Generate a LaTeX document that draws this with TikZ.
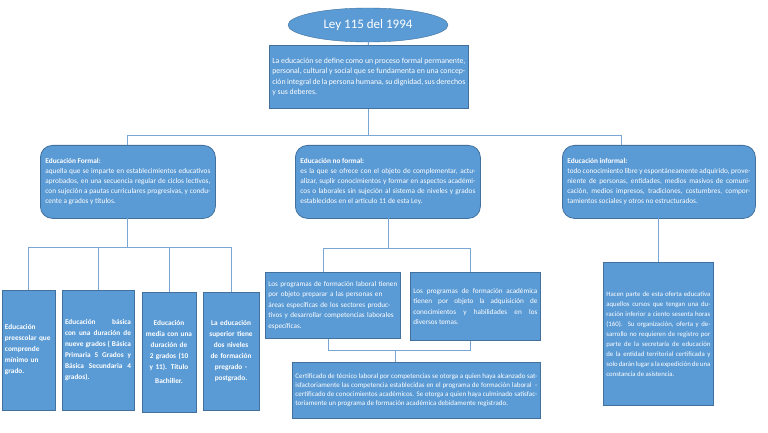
\documentclass[tikz,border=0pt]{standalone}
\usepackage{fontspec}
\setmainfont{Carlito}
\usetikzlibrary{shapes.geometric}
\definecolor{fillb}{HTML}{5B9BD5}
\definecolor{edgeb}{HTML}{41719C}
\definecolor{lineb}{HTML}{7AA6D6}
\begin{document}
\begin{tikzpicture}[x=1pt,y=-1pt,
  bx/.style={draw=edgeb,fill=fillb,text=white,line width=0.8pt,font=\fontsize{7.3}{10}\selectfont,inner sep=3pt,align=justify,anchor=north west},
  rbx/.style={bx,rounded corners=12pt,inner sep=5pt},
  ln/.style={draw=lineb,line width=0.9pt}]
\useasboundingbox (0,0) rectangle (768,433);
\node[ellipse,draw=edgeb,fill=fillb,text=white,minimum width=160,minimum height=34,font=\fontsize{13}{15}\selectfont] (t) at (368,25) {Ley 115 del 1994};
\node[bx,text width=193,minimum height=63,font=\fontsize{7.8}{10.5}\selectfont] (m) at (269,45) {La educación se define como un proceso formal permanente, personal, cultural y social que se fundamenta en una concepción integral de la persona humana, su dignidad, sus derechos y sus deberes.};
\node[rbx,text width=165,minimum height=73] (f) at (40,145) {\textbf{Educación Formal:}\\ aquella que se imparte en establecimientos educativos aprobados, en una secuencia regular de ciclos lectivos, con sujeción a pautas curriculares progresivas, y conducente a grados y títulos.};
\node[rbx,text width=175,minimum height=73] (nf) at (295,145) {\textbf{Educación no formal:}\\ es la que se ofrece con el objeto de complementar, actualizar, suplir conocimientos y formar en aspectos académicos o laborales sin sujeción al sistema de niveles y grados establecidos en el artículo 11 de esta Ley.};
\node[rbx,text width=183,minimum height=73] (inf) at (562,145) {\textbf{Educación informal:}\\ todo conocimiento libre y espontáneamente adquirido, proveniente de personas, entidades, medios masivos de comunicación, medios impresos, tradiciones, costumbres, comportamientos sociales y otros no estructurados.};
% formal children
\tikzset{cb/.style={bx,font=\bfseries\fontsize{7.3}{11}\selectfont,anchor=center}}
\node[cb,text width=47,minimum width=53,minimum height=120,align=left] (f1) at (28.5,350) {Educación preescolar que comprende mínimo un grado.};
\node[cb,text width=66,minimum width=72,minimum height=120] (f2) at (98,350) {Educación básica con una duración de nueve grados ( Básica Primaria 5 Grados y Básica Secundaria 4 grados).};
\node[cb,text width=48,minimum width=54,minimum height=120,align=center] (f3) at (169,352) {Educación media con una duración de 2 grados (10 y 11). Título\\[3pt] Bachiller.};
\node[cb,text width=50,minimum width=56,minimum height=118,align=center] (f4) at (231,351) {La educación superior tiene dos niveles de formación pregrado - postgrado.};
% no formal children
\node[bx,text width=129,minimum height=66,font=\fontsize{7.2}{10.5}\selectfont,align=left] (n1) at (265,272) {Los programas de formación laboral tienen por objeto preparar a las personas en áreas específicas de los sectores productivos y desarrollar competencias laborales específicas.};
\node[bx,text width=124,minimum height=68,font=\fontsize{7.2}{10.5}\selectfont] (n2) at (410,272) {Los programas de formación académica tienen por objeto la adquisición de conocimientos y habilidades en los diversos temas.};
\node[bx,text width=242,minimum height=56,font=\fontsize{7}{9}\selectfont] (c) at (292,362) {Certificado de técnico laboral por competencias se otorga a quien haya alcanzado satisfactoriamente las competencia establecidas en el programa de formación laboral \ - certificado de conocimientos académicos. Se otorga a quien haya culminado satisfactoriamente un programa de formación académica debidamente registrado.};
\node[bx,text width=104,minimum height=143,font=\fontsize{6.8}{10}\selectfont] (i1) at (603,262) {Hacen parte de esta oferta educativa aquellos cursos que tengan una duración inferior a ciento sesenta horas (160). Su organización, oferta y desarrollo no requieren de registro por parte de la secretaría de educación de la entidad territorial certificada y solo darán lugar a la expedición de una constancia de asistencia.};
% connectors
\coordinate (h1) at (127,135); \coordinate (h2) at (621,135);
\path[ln] (t) -- (m);
\path[ln] (m.south) -- (m.south|-h1);
\path[ln] (h1) -- (h2);
\path[ln] (h1) -- (h1|-f.north);
\path[ln] (h2) -- (h2|-inf.north);
\coordinate (fa) at (28,247); \coordinate (fb) at (232,247);
\path[ln] (f.south-|fa.north-|127,0) ; 
\path[ln] (127,218) -- (127,247);
\path[ln] (fa) -- (fb);
\foreach \n in {f1,f2,f3,f4} \path[ln] (\n.north|-fa) -- (\n.north);
\coordinate (na) at (323,248); \coordinate (nb) at (470,248);
\path[ln] (388,218) -- (388,248);
\path[ln] (na) -- (nb);
\path[ln] (na) -- (na|-n1.north);
\path[ln] (nb) -- (nb|-n2.north);
\coordinate (ba) at (328,350); \coordinate (bb) at (470,350);
\path[ln] (ba|-n1.south) -- (ba) -- (bb) -- (bb|-n2.south);
\path[ln] (395,350) -- (c.north-|395,0);
\path[ln] (658,218) -- (i1.north-|658,0);
\end{tikzpicture}
\end{document}
